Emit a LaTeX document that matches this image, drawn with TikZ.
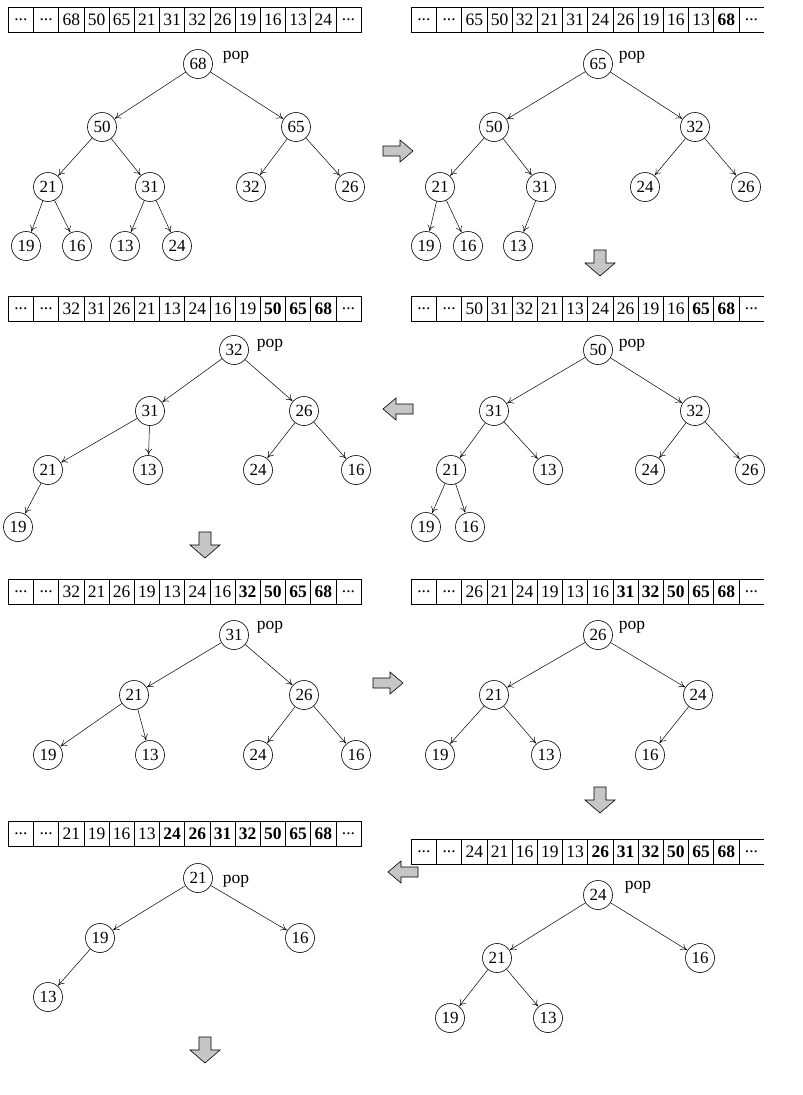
\documentclass[tikz,border=0pt]{standalone}
\usepackage{fontspec}
\setmainfont{Liberation Serif}
\usetikzlibrary{arrows.meta}
\newcommand{\dd}{...}
\begin{document}
\begin{tikzpicture}[x=1pt,y=-1pt,
  tn/.style={circle,draw,line width=0.6pt,minimum size=29pt,inner sep=0pt,font=\fontsize{17}{18}\selectfont},
  ed/.style={-{To[length=6pt,width=7pt]},line width=0.5pt,shorten >=0.5pt},
  cell/.style={draw,line width=0.6pt,minimum width=25.2pt,minimum height=25pt,inner sep=0pt,anchor=north west,font=\fontsize{17.5}{18}\selectfont},
  opencell/.style={cell,draw=none},
  poplbl/.style={font=\fontsize{17.5}{18}\selectfont},
  barrow/.style={draw,line width=0.6pt,fill=gray!45}]
\useasboundingbox (0,0) rectangle (803,1095);
\newcommand{\tnode}[4]{\node[tn] (#1) at (#2,#3) {#4};}
\newcommand{\arrrow}[6]{%
  \foreach \v [count=\i] in {#4} {%
    \ifnum\i=14\relax
      \ifnum#6=1\relax
        \node[opencell] (#1\i) at ({#2+(\i-1)*25.2},#3) {\v};
        \draw[line width=0.6pt] (#1\i.north west) -- (#1\i.north east);
        \draw[line width=0.6pt] (#1\i.south west) -- (#1\i.south east);
      \else
        \node[cell] (#1\i) at ({#2+(\i-1)*25.2},#3) {\v};
      \fi
    \else\ifnum\i<#5\relax
      \node[cell] (#1\i) at ({#2+(\i-1)*25.2},#3) {\v};
    \else
      \node[cell,font=\fontsize{17.5}{18}\selectfont\bfseries] (#1\i) at ({#2+(\i-1)*25.2},#3) {\v};
    \fi\fi}}
\newcommand{\rarrow}[3]{\draw[barrow] (#2-15,#3-5) -- (#2+2,#3-5) -- (#2+2,#3-11) -- (#2+15,#3) -- (#2+2,#3+11) -- (#2+2,#3+5) -- (#2-15,#3+5) -- cycle; \coordinate (#1) at (#2,#3);}
\newcommand{\larrow}[3]{\draw[barrow] (#2+15,#3-5) -- (#2-2,#3-5) -- (#2-2,#3-11) -- (#2-15,#3) -- (#2-2,#3+11) -- (#2-2,#3+5) -- (#2+15,#3+5) -- cycle; \coordinate (#1) at (#2,#3);}
\newcommand{\darrow}[3]{\draw[barrow] (#2-6,#3-13) -- (#2+6,#3-13) -- (#2+6,#3) -- (#2+15,#3) -- (#2,#3+13) -- (#2-15,#3) -- (#2-6,#3) -- cycle; \coordinate (#1) at (#2,#3);}

% Panel 1
\arrrow{a}{8}{7}{\dd,\dd,68,50,65,21,31,32,26,19,16,13,24,\dd}{99}{0}
\tnode{p1r}{198}{64}{68}\node[poplbl] (p1pop) at (236,57) {pop};
\tnode{p1a}{102}{127}{50}\tnode{p1b}{296}{127}{65}
\tnode{p1c}{48}{187}{21}\tnode{p1d}{150}{187}{31}\tnode{p1e}{251}{187}{32}\tnode{p1f}{350}{187}{26}
\tnode{p1g}{26}{246}{19}\tnode{p1h}{77}{246}{16}\tnode{p1i}{125}{246}{13}\tnode{p1j}{177}{246}{24}
\draw[ed] (p1r)--(p1a);\draw[ed] (p1r)--(p1b);\draw[ed] (p1a)--(p1c);\draw[ed] (p1a)--(p1d);
\draw[ed] (p1b)--(p1e);\draw[ed] (p1b)--(p1f);\draw[ed] (p1c)--(p1g);\draw[ed] (p1c)--(p1h);
\draw[ed] (p1d)--(p1i);\draw[ed] (p1d)--(p1j);
\rarrow{ar1}{398}{151}

% Panel 2
\arrrow{b}{411}{7}{\dd,\dd,65,50,32,21,31,24,26,19,16,13,68,\dd}{13}{1}
\tnode{p2r}{598}{64}{65}\node[poplbl] (p2pop) at (632,57) {pop};
\tnode{p2a}{494}{127}{50}\tnode{p2b}{695}{127}{32}
\tnode{p2c}{440}{187}{21}\tnode{p2d}{541}{187}{31}\tnode{p2e}{645}{187}{24}\tnode{p2f}{746}{187}{26}
\tnode{p2g}{426}{246}{19}\tnode{p2h}{468}{246}{16}\tnode{p2i}{518}{246}{13}
\draw[ed] (p2r)--(p2a);\draw[ed] (p2r)--(p2b);\draw[ed] (p2a)--(p2c);\draw[ed] (p2a)--(p2d);
\draw[ed] (p2b)--(p2e);\draw[ed] (p2b)--(p2f);\draw[ed] (p2c)--(p2g);\draw[ed] (p2c)--(p2h);
\draw[ed] (p2d)--(p2i);
\darrow{ar2}{600}{263}

% Panel 3
\arrrow{c}{8}{296}{\dd,\dd,32,31,26,21,13,24,16,19,50,65,68,\dd}{11}{0}
\tnode{p3r}{234}{350}{32}\node[poplbl] (p3pop) at (270,345) {pop};
\tnode{p3a}{150}{411}{31}\tnode{p3b}{304}{411}{26}
\tnode{p3c}{48}{470}{21}\tnode{p3d}{148}{470}{13}\tnode{p3e}{258}{470}{24}\tnode{p3f}{356}{470}{16}
\tnode{p3g}{18}{527}{19}
\draw[ed] (p3r)--(p3a);\draw[ed] (p3r)--(p3b);\draw[ed] (p3a)--(p3c);\draw[ed] (p3a)--(p3d);
\draw[ed] (p3b)--(p3e);\draw[ed] (p3b)--(p3f);\draw[ed] (p3c)--(p3g);
\larrow{ar3}{398}{409}

% Panel 4
\arrrow{d}{411}{296}{\dd,\dd,50,31,32,21,13,24,26,19,16,65,68,\dd}{12}{1}
\tnode{p4r}{598}{350}{50}\node[poplbl] (p4pop) at (632,345) {pop};
\tnode{p4a}{494}{411}{31}\tnode{p4b}{695}{411}{32}
\tnode{p4c}{451}{470}{21}\tnode{p4d}{548}{470}{13}\tnode{p4e}{650}{470}{24}\tnode{p4f}{750}{470}{26}
\tnode{p4g}{426}{527}{19}\tnode{p4h}{470}{527}{16}
\draw[ed] (p4r)--(p4a);\draw[ed] (p4r)--(p4b);\draw[ed] (p4a)--(p4c);\draw[ed] (p4a)--(p4d);
\draw[ed] (p4b)--(p4e);\draw[ed] (p4b)--(p4f);\draw[ed] (p4c)--(p4g);\draw[ed] (p4c)--(p4h);
\darrow{ar4}{205}{545}

% Panel 5
\arrrow{e}{8}{579}{\dd,\dd,32,21,26,19,13,24,16,32,50,65,68,\dd}{10}{0}
\tnode{p5r}{234}{635}{31}\node[poplbl] (p5pop) at (270,627) {pop};
\tnode{p5a}{134}{695}{21}\tnode{p5b}{304}{695}{26}
\tnode{p5c}{48}{755}{19}\tnode{p5d}{150}{755}{13}\tnode{p5e}{258}{755}{24}\tnode{p5f}{356}{755}{16}
\draw[ed] (p5r)--(p5a);\draw[ed] (p5r)--(p5b);\draw[ed] (p5a)--(p5c);\draw[ed] (p5a)--(p5d);
\draw[ed] (p5b)--(p5e);\draw[ed] (p5b)--(p5f);
\rarrow{ar5}{388}{683}

% Panel 6
\arrrow{f}{411}{579}{\dd,\dd,26,21,24,19,13,16,31,32,50,65,68,\dd}{9}{1}
\tnode{p6r}{598}{635}{26}\node[poplbl] (p6pop) at (632,627) {pop};
\tnode{p6a}{494}{695}{21}\tnode{p6b}{698}{695}{24}
\tnode{p6c}{440}{755}{19}\tnode{p6d}{546}{755}{13}\tnode{p6e}{650}{755}{16}
\draw[ed] (p6r)--(p6a);\draw[ed] (p6r)--(p6b);\draw[ed] (p6a)--(p6c);\draw[ed] (p6a)--(p6d);
\draw[ed] (p6b)--(p6e);
\darrow{ar6}{600}{800}

% Panel 7
\arrrow{g}{8}{821}{\dd,\dd,21,19,16,13,24,26,31,32,50,65,68,\dd}{7}{0}
\tnode{p7r}{198}{878}{21}\node[poplbl] (p7pop) at (236,881) {pop};
\tnode{p7a}{100}{938}{19}\tnode{p7b}{300}{938}{16}
\tnode{p7c}{48}{997}{13}
\draw[ed] (p7r)--(p7a);\draw[ed] (p7r)--(p7b);\draw[ed] (p7a)--(p7c);
\larrow{ar7}{403}{872}

% Panel 8
\arrrow{h}{411}{839}{\dd,\dd,24,21,16,19,13,26,31,32,50,65,68,\dd}{8}{1}
\tnode{p8r}{598}{895}{24}\node[poplbl] (p8pop) at (638,887) {pop};
\tnode{p8a}{497}{958}{21}\tnode{p8b}{700}{958}{16}
\tnode{p8c}{450}{1018}{19}\tnode{p8d}{548}{1018}{13}
\draw[ed] (p8r)--(p8a);\draw[ed] (p8r)--(p8b);\draw[ed] (p8a)--(p8c);\draw[ed] (p8a)--(p8d);
\darrow{ar8}{205}{1050}
\end{tikzpicture}
\end{document}
